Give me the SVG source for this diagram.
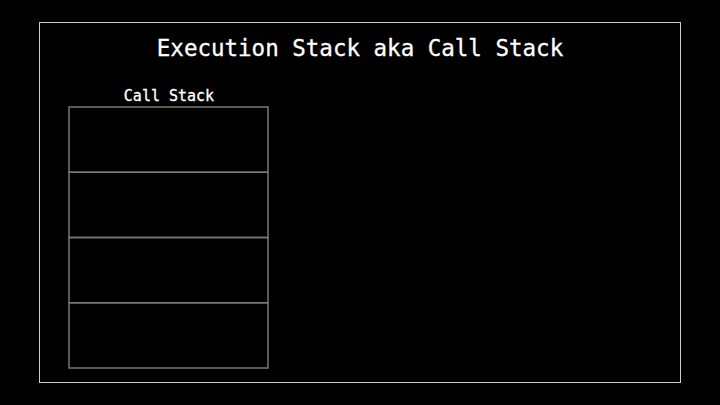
<svg xmlns="http://www.w3.org/2000/svg" width="720" height="405" viewBox="0 0 720 405">
<style>
.t{font-family:"DejaVu Sans Mono","Liberation Mono",monospace;fill:#fff;text-anchor:middle;stroke:#fff;stroke-width:0.3}
.cell{fill:none;stroke:#777;stroke-width:1.5}
</style>
<rect width="720" height="405" fill="#000"/>
<rect x="39.5" y="22.5" width="641" height="360" fill="none" stroke="#ccc" stroke-width="1"/>
<text class="t" x="360" y="56" font-size="22.5">Execution Stack aka Call Stack</text>
<g id="callstack">
<text class="t" x="169" y="101" font-size="15">Call Stack</text>
<rect class="cell" x="69" y="107" width="199" height="65.25"/>
<rect class="cell" x="69" y="172.25" width="199" height="65.25"/>
<rect class="cell" x="69" y="237.5" width="199" height="65.25"/>
<rect class="cell" x="69" y="302.75" width="199" height="65.25"/>
</g>
<g id="connectors"/>
</svg>
